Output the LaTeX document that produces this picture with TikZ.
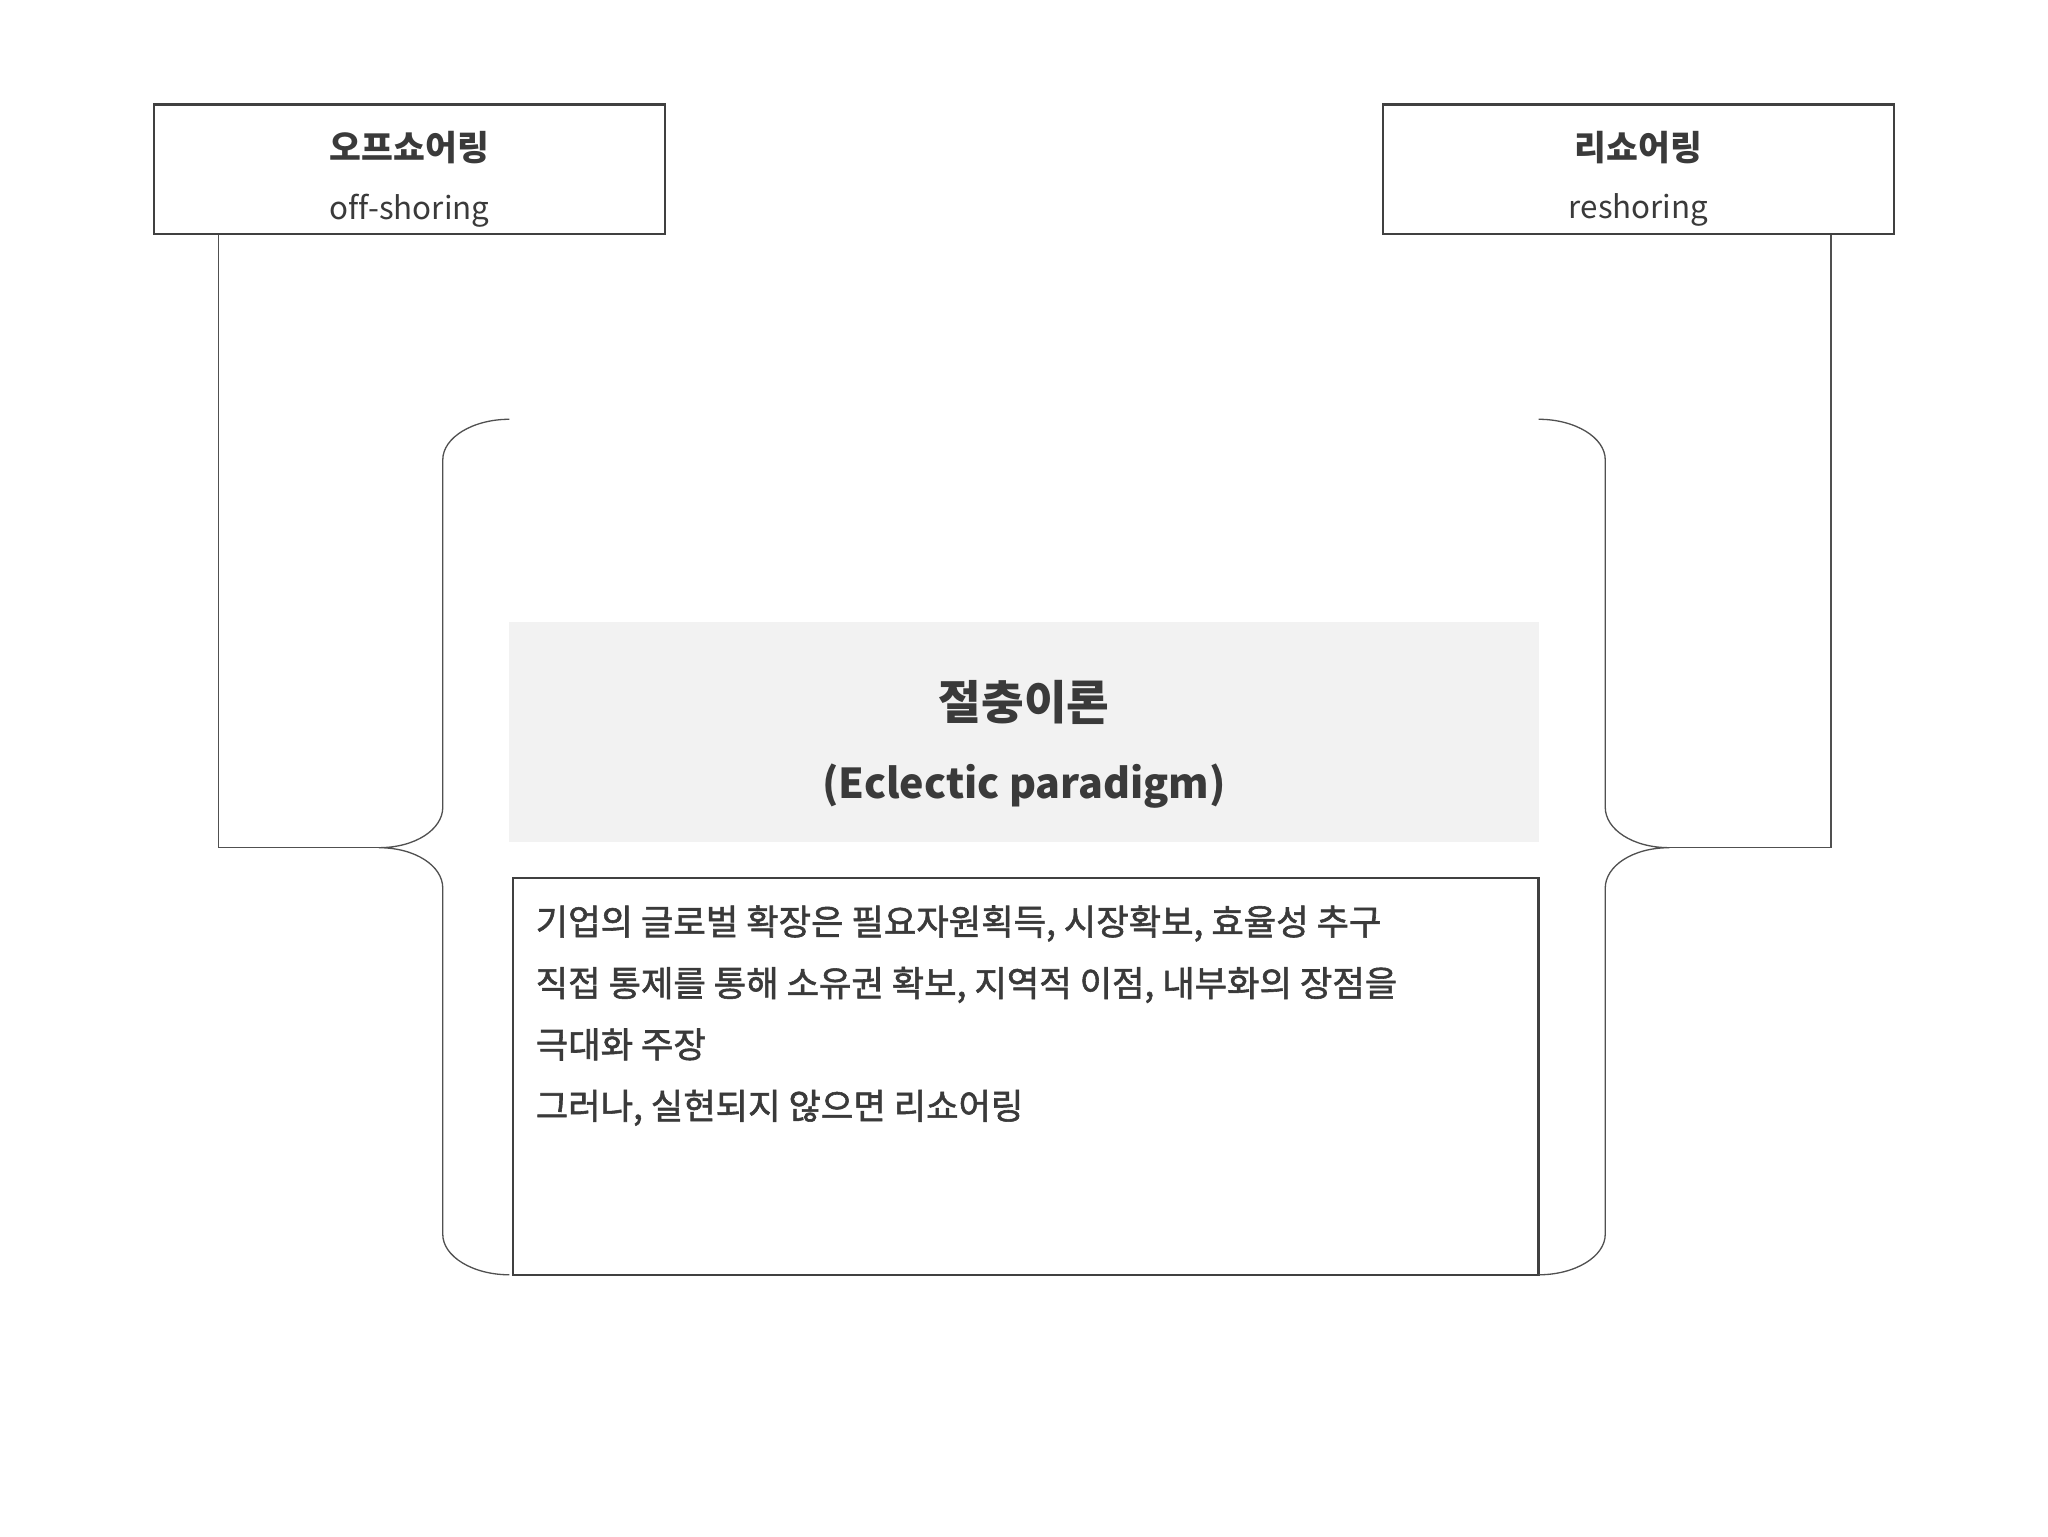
\documentclass[tikz,border=0pt]{standalone}
\usepackage{fontspec}
\setmainfont{Noto Sans CJK KR}
\newfontfamily\medfont[FakeBold=1.6]{Noto Sans CJK KR}
\newfontfamily\nolig[Ligatures=NoCommon]{Noto Sans CJK KR}
\definecolor{ink}{HTML}{3A3A3A}
\definecolor{edgec}{HTML}{404040}
\definecolor{wirec}{HTML}{505050}
\definecolor{panelc}{HTML}{F2F2F2}
\newcommand\bxtitle{\fontsize{26.5}{30}\selectfont\bfseries}
\newcommand\bxsub{\nolig\fontsize{24}{28}\selectfont}
\newcommand\pantitle{\fontsize{35.5}{40}\selectfont\bfseries}
\newcommand\pansub{\fontsize{31.5}{38}\selectfont\bfseries}
\newcommand\bodytxt{\medfont\fontsize{27}{32}\selectfont}
\begin{document}
\begin{tikzpicture}[x=1pt,y=-1pt,
  outerbox/.style={draw=edgec, line width=1.8pt, inner sep=0pt, minimum width=391pt, minimum height=99pt},
  wire/.style={draw=wirec, line width=1pt},
  label/.style={text=ink, inner sep=0pt},
  bodyline/.style={text=ink, inner sep=0pt, anchor=west, font=\bodytxt, text height=21.5pt, text depth=2pt}]
\useasboundingbox[fill=white] (0,0) rectangle (1568,1176);

% top boxes
\node[outerbox] (lbox) at (313.5,129.5) {};
\node[outerbox] (rbox) at (1254.5,129.5) {};
\node[label, font=\bxtitle] (ltitle) at (313.5,113) {오프쇼어링};
\node[label, font=\bxsub] (lsub) at (313.5,161) {off-shoring};
\node[label, font=\bxtitle] (rtitle) at (1254.5,113) {리쇼어링};
\node[label, font=\bxsub] (rsub) at (1254.5,161) {reshoring};

% central panel
\node[fill=panelc, inner sep=0pt, minimum width=788pt, minimum height=169pt] (panel) at (784,560.5) {};
\node[label, font=\pantitle] (ptitle) at (784,538) {절충이론};
\node[label, font=\pansub] (psub) at (784,602) {(Eclectic paradigm)};

% text box
\node[draw=edgec, line width=1.8pt, inner sep=0pt, minimum width=785pt, minimum height=304pt] (tbox) at (785.5,824) {};
\node[bodyline] (b1) at (410,706) {기업의 글로벌 확장은 필요자원획득, 시장확보, 효율성 추구};
\node[bodyline] (b2) at (410,753) {직접 통제를 통해 소유권 확보, 지역적 이점, 내부화의 장점을};
\node[bodyline] (b3) at (410,800) {극대화 주장};
\node[bodyline] (b4) at (410,847) {그러나, 실현되지 않으면 리쇼어링};

% brace tips
\coordinate (ltip) at (290,649);
\coordinate (rtip) at (1278,649);

% braces
\draw[wire] (390,321) .. controls (362,321) and (339,335) .. (339,352)
  -- (339,618) .. controls (339,635) and (318,649) .. (ltip)
  .. controls (318,649) and (339,663) .. (339,680)
  -- (339,945) .. controls (339,962) and (362,976) .. (390,976);
\draw[wire] (1178,321) .. controls (1206,321) and (1229,335) .. (1229,352)
  -- (1229,618) .. controls (1229,635) and (1250,649) .. (rtip)
  .. controls (1250,649) and (1229,663) .. (1229,680)
  -- (1229,945) .. controls (1229,962) and (1206,976) .. (1178,976);

% connectors
\draw[wire] ([xshift=50pt]lbox.south west) |- (ltip);
\draw[wire] ([xshift=-49pt]rbox.south east) |- (rtip);
\end{tikzpicture}
\end{document}
